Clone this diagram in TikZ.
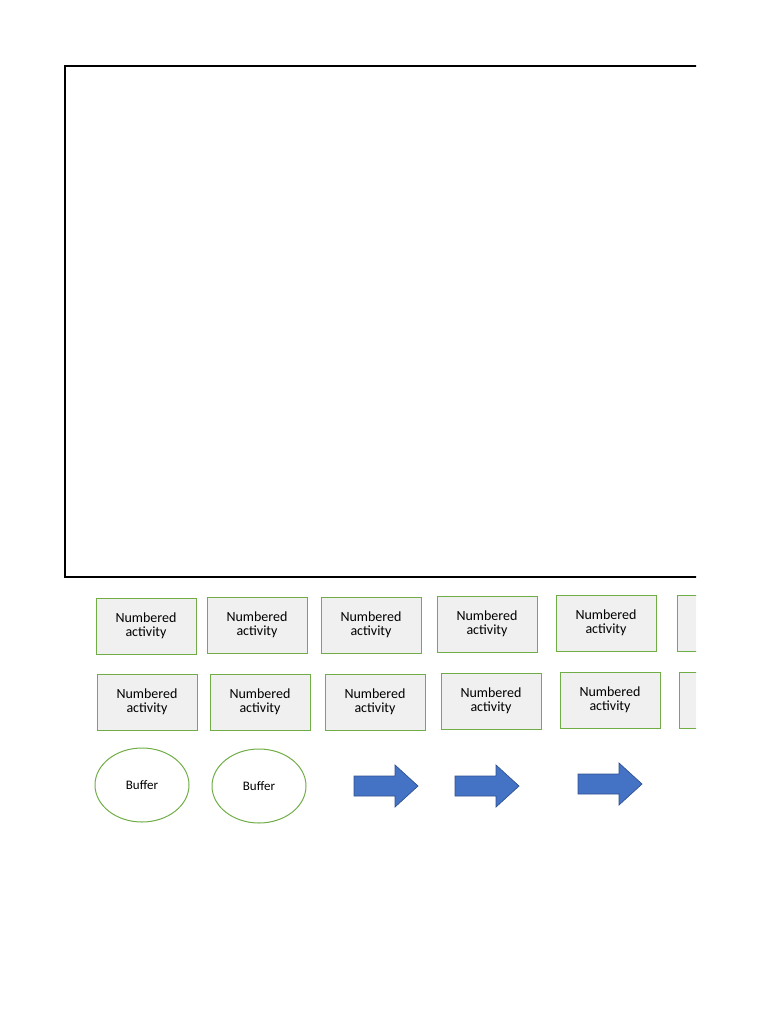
\documentclass[tikz,border=0pt]{standalone}
\usepackage{fontspec}
\setmainfont{Carlito}
\definecolor{grn}{HTML}{70AD47}
\definecolor{blu}{HTML}{4472C4}
\definecolor{bld}{HTML}{2F528F}
\tikzset{act/.style={draw=grn, line width=1pt, fill=gray!12, minimum width=100pt, minimum height=56pt, inner sep=0pt, align=center, font=\fontsize{14}{13.5}\selectfont},
buf/.style={draw=grn, line width=1pt, ellipse, minimum width=94pt, minimum height=74pt, font=\fontsize{13}{13}\selectfont},
blarrow/.style={fill=blu, draw=bld, line width=0.7pt}}
\usetikzlibrary{shapes.geometric}
\begin{document}
\begin{tikzpicture}[x=1pt,y=-1pt]
\useasboundingbox (0,0) rectangle (768,1024);
\begin{scope}
\clip (0,0) rectangle (696,1024);
\draw[line width=2.4pt] (900,66) -- (65,66) -- (65,577) -- (900,577);
\node[act] (a1) at (146,626) {Numbered\\activity};
\node[act] (a2) at (257,625) {Numbered\\activity};
\node[act] (a3) at (371,625) {Numbered\\activity};
\node[act] (a4) at (487,624) {Numbered\\activity};
\node[act] (a5) at (606,623) {Numbered\\activity};
\node[act] (a6) at (727,623) {Numbered\\activity};
\node[act] (b1) at (147,702) {Numbered\\activity};
\node[act] (b2) at (260,702) {Numbered\\activity};
\node[act] (b3) at (375,702) {Numbered\\activity};
\node[act] (b4) at (491,701) {Numbered\\activity};
\node[act] (b5) at (610,700) {Numbered\\activity};
\node[act] (b6) at (729,700) {Numbered\\activity};
\end{scope}
\node[buf] (c1) at (142,785) {Buffer};
\node[buf] (c2) at (259,786) {Buffer};
\foreach \x/\y in {354/786, 455/786, 578/784}{
\draw[blarrow] (\x,\y-10) -- (\x+41,\y-10) -- (\x+41,\y-21) -- (\x+64,\y) -- (\x+41,\y+21) -- (\x+41,\y+10) -- (\x,\y+10) -- cycle;}
\end{tikzpicture}
\end{document}
